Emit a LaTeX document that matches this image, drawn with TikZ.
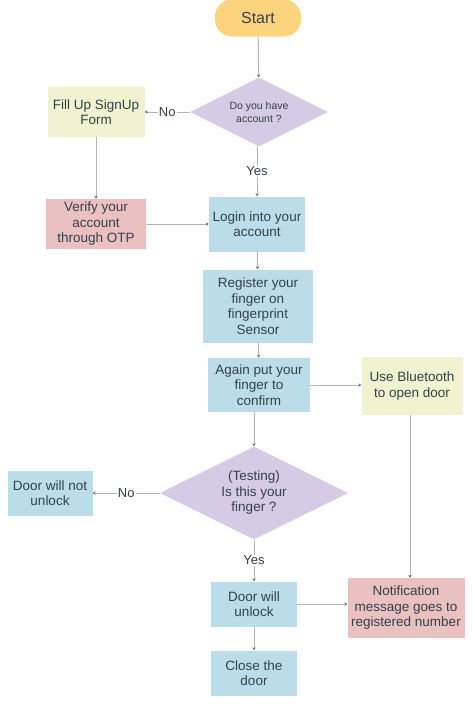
\documentclass[tikz,border=0pt]{standalone}
\usepackage{fontspec}
\setmainfont{Liberation Sans}
\usepackage{tikz}
\usetikzlibrary{shapes.geometric,arrows.meta}

\definecolor{startfill}{HTML}{FCD47E}
\definecolor{askfill}{HTML}{D6CBE4}
\definecolor{bluefill}{HTML}{BADDE9}
\definecolor{pinkfill}{HTML}{EBC0C1}
\definecolor{lemonfill}{HTML}{F0F2D0}
\definecolor{wire}{HTML}{B4B4B4}
\definecolor{ink}{HTML}{34414B}

\begin{document}
\begin{tikzpicture}
[
    x = 1pt, y = -1pt,
    font = \fontsize{13.5}{15.5}\selectfont,
    text = ink,
    dims/.style 2 args = {minimum width = #1pt, minimum height = #2pt},
    box/.style = {rectangle, align = center, inner sep = 1pt},
    bluebox/.style = {box, fill = bluefill},
    pinkbox/.style = {box, fill = pinkfill},
    lemonbox/.style = {box, fill = lemonfill},
    ask/.style = {diamond, aspect = 2, fill = askfill, align = center, inner sep = 0pt},
    link/.style = {draw = wire, line width = 1pt, -{Stealth[length = 3pt, width = 3.5pt, color = black!55]}},
    tag/.style = {fill = white, inner sep = 1pt, font = \fontsize{13}{15}\selectfont},
]
\useasboundingbox (0,0) rectangle (474,718);

\node[fill = startfill, rounded corners = 17pt, dims = {86}{37}, font = \fontsize{16}{18}\selectfont] (start) at (258,18) {Start};
\node[ask, dims = {138}{69}, font = \fontsize{10.5}{13}\selectfont] (account) at (259,112) {Do you have\\account ?};
\node[lemonbox, dims = {97}{50}] (signup) at (96,112) {Fill Up SignUp\\Form};
\node[pinkbox, dims = {100}{50}] (verify) at (96,224) {Verify your\\account\\through OTP};
\node[bluebox, dims = {96}{55}] (login) at (257,224) {Login into your\\account};
\node[bluebox, dims = {110}{73}] (register) at (258,306) {Register your\\finger on\\fingerprint\\Sensor};
\node[bluebox, dims = {102}{54}] (again) at (259,385) {Again put your\\finger to\\confirm};
\node[lemonbox, dims = {101}{58}] (bluetooth) at (412,386) {Use Bluetooth\\to open door};
\node[ask, dims = {188}{93}] (testing) at (254,493) {(Testing)\\Is this your\\finger ?};
\node[bluebox, dims = {85}{45}] (locked) at (50,493) {Door will not\\unlock};
\node[bluebox, dims = {86}{45}] (unlock) at (254,604) {Door will\\unlock};
\node[bluebox, dims = {86}{45}] (close) at (254,673) {Close the\\door};
\node[pinkbox, dims = {117}{60}] (notify) at (406,608) {Notification\\message goes to\\registered number};

\draw[link] (start) -- (account);
\draw[link] (account) -- node[tag] {No} (signup);
\draw[link] (signup) -- (verify);
\draw[link] (verify) -- (login);
\draw[link] (account.south -| login) -- node[tag] {Yes} (login);
\draw[link] (login) -- (register);
\draw[link] (register) -- (again);
\draw[link] (again.east) -- (again.east -| bluetooth.west);
\draw[link] (testing.north |- again.south) -- (testing.north);
\draw[link] (testing) -- node[tag] {No} (locked);
\draw[link] (testing) -- node[tag] {Yes} (unlock);
\draw[link] (unlock) -- (close);
\draw[link] (unlock.east) -- (unlock.east -| notify.west);
\draw[link] ([xshift = -2pt]bluetooth.south) -- ([xshift = -2pt]bluetooth.south |- notify.north);
\end{tikzpicture}
\end{document}
